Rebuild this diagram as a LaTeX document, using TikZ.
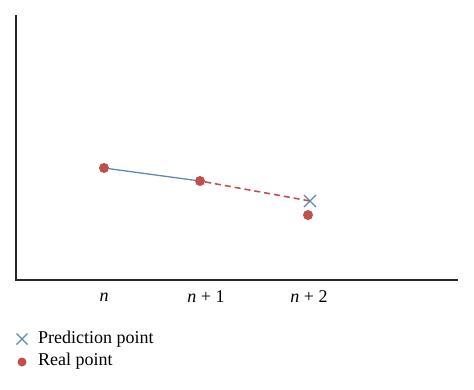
\documentclass[tikz,border=0pt]{standalone}
\usepackage{fontspec}
\setmainfont{Liberation Serif}
\usetikzlibrary{calc}
\definecolor{realred}{RGB}{192,80,77}
\definecolor{predblue}{RGB}{95,135,185}
\begin{document}
\begin{tikzpicture}[x=1pt,y=-1pt,
  realpt/.style={circle,fill=realred,inner sep=0pt,minimum size=10pt},
  predpt/.style={inner sep=0pt,minimum size=12pt},
  lbl/.style={font=\fontsize{18}{21}\selectfont,inner sep=0pt},
  axisline/.style={line width=1.4pt,black!85}]
\useasboundingbox (0,0) rectangle (474,389);
\coordinate (ytop) at (16,15);
\coordinate (origin) at (16,280);
\coordinate (xend) at (458,280);
\draw[axisline] (ytop) -- (origin) -- (xend);
\node[realpt] (p1) at (104,168) {};
\node[realpt] (p2) at (200,181) {};
\node[predpt] (pr) at (310,201) {};
\draw[predblue,line width=1.1pt] ($(pr)+(-6,-6)$) -- ($(pr)+(6,6)$) ($(pr)+(-6,6)$) -- ($(pr)+(6,-6)$);
\node[realpt] (p3) at (308,215) {};
\draw[predblue,line width=1.3pt] (p1) -- (p2);
\draw[realred,line width=1.6pt,dash pattern=on 6pt off 4pt] (p2) -- (pr.center);
\node[lbl] (l1) at (104,297) {\textit{n}};
\node[lbl] (l2) at (206,297) {\textit{n} + 1};
\node[lbl] (l3) at (309,297) {\textit{n} + 2};
\node[predpt] (lx) at (22,339) {};
\draw[predblue,line width=1.1pt] ($(lx)+(-5.5,-5.5)$) -- ($(lx)+(5.5,5.5)$) ($(lx)+(-5.5,5.5)$) -- ($(lx)+(5.5,-5.5)$);
\node[lbl,anchor=west] (t1) at (38,339) {Prediction point};
\node[realpt,minimum size=9pt] (ld) at (22,362) {};
\node[lbl,anchor=west] (t2) at (38,361) {Real point};
\end{tikzpicture}
\end{document}
